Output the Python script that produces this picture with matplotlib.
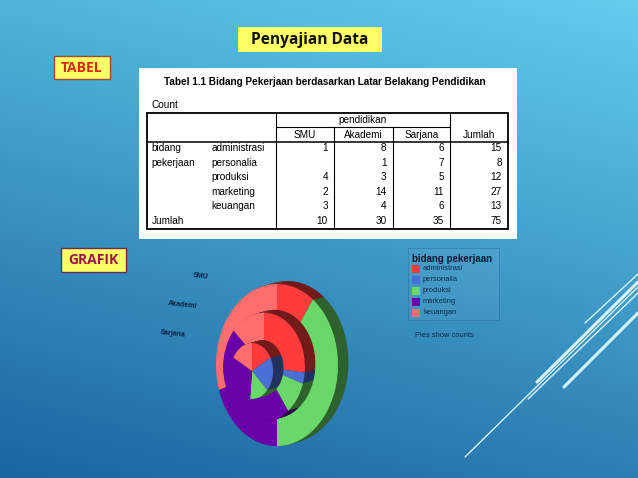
import numpy as np
import matplotlib
matplotlib.use('Agg')
import matplotlib.pyplot as plt
from matplotlib.patches import Rectangle
import matplotlib.colors as mcolors

# data
bidang = ['administrasi', 'personalia', 'produksi', 'marketing', 'keuangan']
pendidikan = ['SMU', 'Akademi', 'Sarjana']
smu = [1, 0, 4, 2, 3]
akademi = [8, 1, 3, 14, 4]
sarjana = [6, 7, 5, 11, 6]

slice_colors = ['#ff3b3b', '#4a70d8', '#68d868', '#6a00a8', '#ff6e6e']

W, H = 638, 478
fig = plt.figure(figsize=(W / 100, H / 100), dpi=100)

# background slide
ax = fig.add_axes([0, 0, 1, 1])
ax.set_xlim(0, W)
ax.set_ylim(H, 0)
ax.axis('off')
yy, xx = np.mgrid[0:H, 0:W]
t = 0.75 * (yy / H) + 0.25 * (1 - xx / W)
c0 = np.array([98, 206, 236]) / 255
c1 = np.array([26, 100, 160]) / 255
bg = c0[None, None, :] * (1 - t[..., None]) + c1[None, None, :] * t[..., None]
ax.imshow(bg, extent=(0, W, H, 0), aspect='auto', zorder=0)

# decorative lines on the right
for (x0, y0, x1, y1, lw) in [(465, 457, 638, 287, 1.0), (537, 382, 638, 282, 2.2),
                              (528, 399, 638, 293, 1.0), (564, 387, 638, 313, 2.2),
                              (585, 323, 638, 274, 1.0)]:
    ax.plot([x0, x1], [y0, y1], color='#d8f2fb', lw=lw, solid_capstyle='round', zorder=1)

sans = ['Open Sans', 'DejaVu Sans']
arial = ['Liberation Sans', 'DejaVu Sans']
fs = 7.2

# title boxes
ax.add_patch(Rectangle((238, 27), 144, 25, facecolor='#ffff66', edgecolor='none', zorder=2))
ax.text(310, 40, 'Penyajian Data', family=sans, weight='bold', fontsize=11.2,
        color='#111111', ha='center', va='center', zorder=3)
ax.add_patch(Rectangle((54, 56), 56, 23, facecolor='#ffff66', edgecolor='#9a4a3a', lw=1, zorder=2))
ax.text(82, 67.5, 'TABEL', family=sans, weight='bold', fontsize=10,
        color='#e02418', ha='center', va='center', zorder=3)
ax.add_patch(Rectangle((61, 248), 65, 23.5, facecolor='#ffff66', edgecolor='#6a2a5a', lw=1, zorder=2))
ax.text(93.5, 260, 'GRAFIK', family=sans, weight='bold', fontsize=10,
        color='#9a1450', ha='center', va='center', zorder=3)

# table
ax.add_patch(Rectangle((139, 68), 378, 171, facecolor='white', edgecolor='none', zorder=2))
ax.text(325, 82, 'Tabel 1.1 Bidang Pekerjaan berdasarkan Latar Belakang Pendidikan',
        family=arial, weight='bold', fontsize=fs, ha='center', va='center', zorder=3)
ax.text(151, 105, 'Count', family=arial, fontsize=fs, ha='left', va='center', zorder=3)

tl, tr, tt, tb = 147, 508, 112.5, 228.5
col_x = [276, 334, 392.5, 450]
ax.add_patch(Rectangle((tl, tt), tr - tl, tb - tt, facecolor='none', edgecolor='black', lw=1.3, zorder=3))
ax.plot([col_x[0], col_x[0]], [tt, tb], color='black', lw=0.8, zorder=3)
ax.plot([col_x[3], col_x[3]], [tt, tb], color='black', lw=0.8, zorder=3)
for cx in col_x[1:3]:
    ax.plot([cx, cx], [126.7, tb], color='black', lw=0.8, zorder=3)
ax.plot([col_x[0], col_x[3]], [126.7, 126.7], color='black', lw=0.8, zorder=3)
ax.plot([tl, tr], [142.3, 142.3], color='black', lw=1.1, zorder=3)

ax.text(363, 120, 'pendidikan', family=arial, fontsize=fs, ha='center', va='center', zorder=3)
edges = col_x + [tr]
for i, name in enumerate(pendidikan + ['Jumlah']):
    ax.text((edges[i] + edges[i + 1]) / 2, 135.5, name, family=arial, fontsize=fs,
            ha='center', va='center', zorder=3)

row_y = [148.3 + 14.5 * i for i in range(6)]
ax.text(151.5, row_y[0], 'bidang', family=arial, fontsize=fs, va='center', zorder=3)
ax.text(151.5, row_y[1], 'pekerjaan', family=arial, fontsize=fs, va='center', zorder=3)
ax.text(151.5, row_y[5], 'Jumlah', family=arial, fontsize=fs, va='center', zorder=3)
cols = [smu, akademi, sarjana]
for i, name in enumerate(bidang):
    ax.text(211.5, row_y[i], name, family=arial, fontsize=fs, va='center', zorder=3)
    vals = [c[i] for c in cols]
    vals.append(sum(vals))
    for j, v in enumerate(vals):
        if v:
            ax.text(edges[j + 1] - 6, row_y[i], str(v), family=arial, fontsize=fs,
                    ha='right', va='center', zorder=3)
totals = [sum(c) for c in cols]
totals.append(sum(totals))
for j, v in enumerate(totals):
    ax.text(edges[j + 1] - 6, row_y[5], str(v), family=arial, fontsize=fs,
            ha='right', va='center', zorder=3)

# legend
ax.add_patch(Rectangle((408, 248), 91, 72, facecolor=(1, 1, 1, 0.04),
                       edgecolor=(0.1, 0.3, 0.5, 0.35), lw=0.6, zorder=2))
ax.text(411.5, 259.5, 'bidang pekerjaan', family=arial, weight='bold', fontsize=7,
        color='#0a1a30', va='center', zorder=3)
for i, name in enumerate(bidang):
    y = 269 + 10.9 * i
    ax.add_patch(Rectangle((412, y - 4), 8, 8, facecolor=slice_colors[i], edgecolor='none', zorder=3))
    ax.text(423, y, name, family=arial, fontsize=5.4, color='#102848', va='center', zorder=3)
ax.text(415, 335.5, 'Pies show counts', family=arial, fontsize=5.4, color='#102848',
        va='center', zorder=3)

# ring labels
for name, (lx, ly) in zip(pendidikan, [(201, 276), (183, 305), (173, 334)]):
    ax.text(lx, ly, name, family=arial, weight='bold', fontsize=5, color='#0a1e3a',
            ha='center', va='center', rotation=-6, zorder=3)

# nested "3D" pie: outer SMU, middle Akademi, inner Sarjana
pcx, pcy, sx, sy = 277, 365, 61, 81
ax2 = fig.add_axes([0, 0, 1, 1])
ax2.patch.set_alpha(0)


def dark(c, f=0.45):
    r, g, b = mcolors.to_rgb(c)
    return (r * f, g * f, b * f)


rings = [(smu, 1.0, 0.0, 0.0), (akademi, 0.67, -0.213, -0.025), (sarjana, 0.345, -0.41, -0.074)]
ddx, ddy = 10.5 / sx, 3 / sy
for vals, r, cx, cy in rings:
    side = [dark(c) for c in slice_colors]
    for k in np.linspace(1, 0.05, 10):
        ax2.pie(vals, radius=r, center=(cx + ddx * k, cy + ddy * k), startangle=90,
                counterclock=False, colors=side,
                wedgeprops=dict(linewidth=0.4, edgecolor='none'))
    ax2.pie(vals, radius=r, center=(cx, cy), startangle=90, counterclock=False,
            colors=slice_colors, wedgeprops=dict(linewidth=0))

ax2.set_aspect('auto')
ax2.set_xlim(-pcx / sx, (W - pcx) / sx)
ax2.set_ylim(-(H - pcy) / sy, pcy / sy)
ax2.axis('off')

fig.savefig('out.png', dpi=100)
